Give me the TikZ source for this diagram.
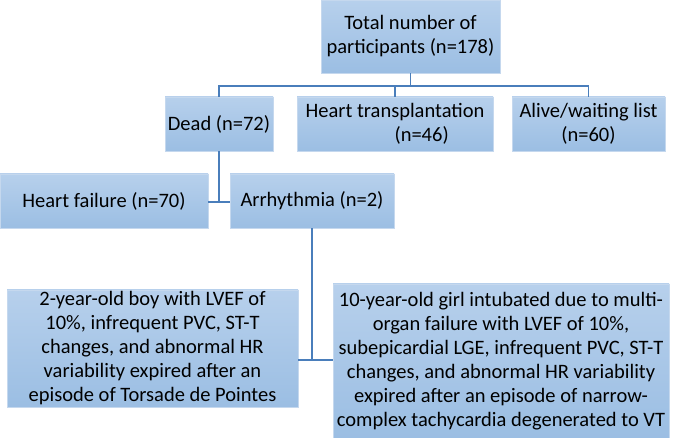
\documentclass[tikz,border=0pt]{standalone}
\usepackage{fontspec}
\setmainfont{Carlito}
\definecolor{boxtop}{HTML}{B7D0EC}
\definecolor{boxbot}{HTML}{9BBEE3}
\definecolor{boxline}{HTML}{C5D8EE}
\definecolor{linkcol}{HTML}{4A7EBB}
\begin{document}
\begin{tikzpicture}[
    x=1pt,y=-1pt,
    font=\fontsize{20.5}{24}\selectfont,
    base/.style={rectangle,draw=boxline,top color=boxtop,bottom color=boxbot,inner sep=2pt,align=center},
    link/.style={draw=linkcol,line width=1.2pt}
  ]
  \useasboundingbox (0,0) rectangle (685,438);

  \node(total) [base,minimum width=179pt,minimum height=73pt] at (410.5,36.5) {Total number of\\participants (n=178)};

  \node(dead) [base,minimum width=108pt,minimum height=54pt] at (219,124) {Dead (n=72)};
  \node(trans) [base,minimum width=196pt,minimum height=54pt] at (395,124) {Heart transplantation\\\hspace*{2.6em}(n=46)};
  \node(alive) [base,minimum width=153pt,minimum height=54pt] at (588.5,124) {Alive/waiting list\\(n=60)};

  \node(hf) [base,minimum width=208pt,minimum height=54pt] at (104,201) {Heart failure (n=70)};
  \node(arr) [base,minimum width=164pt,minimum height=54pt] at (312,201) {Arrhythmia (n=2)};

  \node(boy) [base,minimum width=291pt,minimum height=103pt] at (152.5,348.5) {2-year-old boy with LVEF of\\10\%, infrequent PVC, ST-T\\changes, and abnormal HR\\variability expired after an\\episode of Torsade de Pointes};
  \node(girl) [base,minimum width=336pt,minimum height=154pt] at (501,361) {10-year-old girl intubated due to multi-\\organ failure with LVEF of 10\%,\\subepicardial LGE, infrequent PVC, ST-T\\changes, and abnormal HR variability\\expired after an episode of narrow-\\complex tachycardia degenerated to VT};

  \coordinate(top) at (410.5,86);
  \coordinate(mid) at (219,202);
  \coordinate(low) at (312,360);

  \draw[link] (total.south) -- (top);
  \draw[link] (dead.north) |- (top) -| (alive.north);
  \draw[link] (trans.north) -- (trans.north |- top);
  \draw[link] (dead.south) -- (mid);
  \draw[link] (hf.east |- mid) -- (arr.west |- mid);
  \draw[link] (arr.south) -- (low);
  \draw[link] (boy.east |- low) -- (girl.west |- low);
\end{tikzpicture}
\end{document}
